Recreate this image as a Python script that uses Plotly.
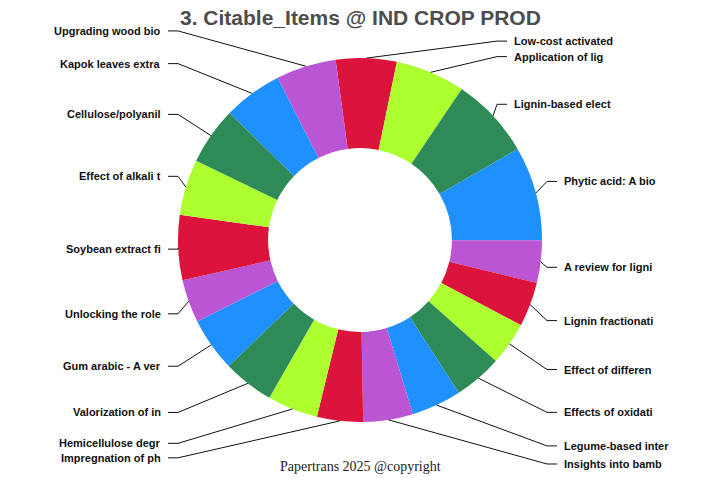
import math
import plotly.graph_objects as go

# ---------------- data ----------------
labels = ["Low-cost activated", "Application of lig", "Lignin-based elect", "Phytic acid: A bio",
          "A review for ligni", "Lignin fractionati", "Effect of differen", "Effects of oxidati",
          "Legume-based inter", "Insights into bamb", "Impregnation of ph", "Hemicellulose degr",
          "Valorization of in", "Gum arabic - A ver", "Unlocking the role", "Soybean extract fi",
          "Effect of alkali t", "Cellulose/polyanil", "Kapok leaves extra", "Upgrading wood bio"]
values = [19.4, 22.3, 26.0, 30.1, 13.6, 14.2, 13.8, 15.4, 16.0, 15.9,
          14.7, 16.2, 16.3, 17.2, 13.8, 20.8, 17.8, 18.4, 18.9, 19.2]
palette = ["#DC143C", "#ADFF2F", "#2E8B57", "#1E90FF", "#BA55D3"]
title_text = "3. Citable_Items @ IND CROP PROD"
credit_text = "Papertrans 2025 @copyright"

# ---------------- layout constants ----------------
W, H = 720, 480
CX, CY, R = 360, 240, 182
HOLE = 0.505
ROT = -7.7
colors = [palette[i % len(palette)] for i in range(len(values))]


def px(x):
    return x / W


def py(y):
    return 1 - y / H


fig = go.Figure()
fig.add_trace(go.Pie(
    labels=labels, values=values, sort=False, direction="clockwise",
    rotation=ROT, hole=HOLE, textinfo="none", hoverinfo="label+value",
    marker=dict(colors=colors, line=dict(width=0)),
    domain=dict(x=[px(CX - R), px(CX + R)], y=[py(CY + R), py(CY - R)]),
    showlegend=False,
))

# ---------------- outside labels with leader lines ----------------
total = sum(values)
items = []
cum = 0.0
for lab, v in zip(labels, values):
    mid = ROT + (cum + v / 2) / total * 360
    cum += v
    th = math.radians(mid)
    ex, ey = CX + R * math.sin(th), CY - R * math.cos(th)
    right = math.sin(th) > 0
    near = right and (mid % 360) < 60
    if near:
        ry = R + 17
    elif right:
        ry = R + 45
    else:
        ry = R + 37
    ly = CY - ry * math.cos(th)
    if right:
        xt = CX + R - 30 if near else CX + R + 20
    else:
        xt = CX - R - 15
    items.append(dict(lab=lab, ex=ex, ey=ey, ly=ly, xt=xt, right=right))

GAP, YMIN, YMAX = 14.5, 28, 464
for side in (True, False):
    grp = sorted([it for it in items if it["right"] == side], key=lambda d: d["ly"])
    for k in range(len(grp)):
        lo = YMIN if k == 0 else grp[k - 1]["ly"] + GAP
        grp[k]["ly"] = max(grp[k]["ly"], lo)
    for k in range(len(grp) - 1, -1, -1):
        hi = YMAX if k == len(grp) - 1 else grp[k + 1]["ly"] - GAP
        grp[k]["ly"] = min(grp[k]["ly"], hi)

shapes = []
annotations = []
for it in items:
    s = 1 if it["right"] else -1
    bx, hx = it["xt"] - s * 15, it["xt"] - s * 5
    path = (f"M {px(it['ex'])},{py(it['ey'])} L {px(bx)},{py(it['ly'])} "
            f"L {px(hx)},{py(it['ly'])}")
    shapes.append(dict(type="path", xref="paper", yref="paper", path=path,
                       line=dict(color="#111111", width=1)))
    annotations.append(dict(
        x=px(it["xt"]), y=py(it["ly"]), xref="paper", yref="paper",
        text=it["lab"], showarrow=False,
        xanchor="left" if it["right"] else "right", yanchor="middle",
        font=dict(family="Liberation Sans, Arial, sans-serif", size=11,
                  color="#111111", weight="bold"),
    ))

annotations.append(dict(
    x=0.5, y=py(18), xref="paper", yref="paper", text=title_text, showarrow=False,
    xanchor="center", yanchor="middle",
    font=dict(family="Liberation Sans, Arial, sans-serif", size=21, color="#4d4d4d",
              weight="bold"),
))
annotations.append(dict(
    x=0.5, y=py(466), xref="paper", yref="paper", text=credit_text, showarrow=False,
    xanchor="center", yanchor="middle",
    font=dict(family="Liberation Serif, Times New Roman, serif", size=14, color="#222222"),
))

fig.update_layout(
    width=W, height=H, margin=dict(l=0, r=0, t=0, b=0),
    paper_bgcolor="white", plot_bgcolor="white",
    shapes=shapes, annotations=annotations,
)

fig.write_html("out.html", config={"displayModeBar": False},
               post_script="document.body.style.margin='0';document.body.style.overflow='hidden';")
